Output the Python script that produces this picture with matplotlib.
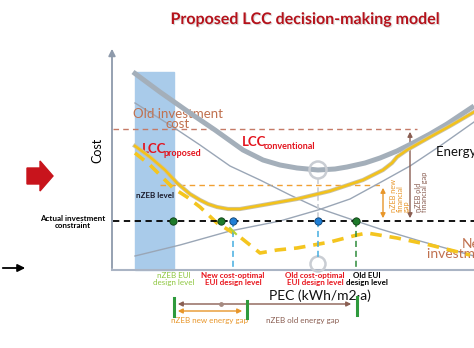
import matplotlib.pyplot as plt
import matplotlib.patheffects as pe
from matplotlib.patches import Rectangle, Ellipse, FancyArrow

plt.rcParams['font.family'] = ['Lato', 'DejaVu Sans']

# canvas units: x grows with PEC, y is screen position (cost grows upward on screen)
W, H = 474, 348

# LCC conventional (thick grey)
conv_x = [133, 160, 190, 215, 243, 263, 280, 297, 318, 335, 347, 365, 380, 397, 413, 430, 447, 474]
conv_y = [72, 92, 113, 130, 150, 160, 165, 168, 170, 169, 167, 163, 158, 151, 143, 134, 124, 106]

# LCC proposed (yellow)
prop_x = [135, 150, 165, 177, 190, 200, 208, 217, 228, 240, 263, 297, 330, 363, 383, 392, 397, 407, 430, 450, 474]
prop_y = [146, 157, 170, 183, 194, 200, 204, 207, 209, 209, 205, 199, 191, 180, 170, 163, 157, 150, 137, 126, 112]

# energy cost (thin grey, rising)
energy_x = [135, 180, 230, 280, 318, 350, 383, 410, 440, 474]
energy_y = [256, 245, 231, 221, 210, 199, 181, 166, 146, 122]

# old investment cost (thin grey, falling)
inv_x = [135, 170, 200, 230, 260, 290, 318, 356, 380, 420, 474]
inv_y = [103, 125, 145, 166, 180, 195, 208, 221, 229, 241, 256]

# new investment cost (yellow dashed)
newinv_x = [135, 150, 173, 187, 200, 217, 240, 260, 277, 297, 330, 357, 367, 397, 430, 470]
newinv_y = [153, 165, 188, 197, 207, 223, 237, 253, 250, 248, 242, 235, 233, 238, 245, 255]

# levels
constraint_y = 221
old_cost_y = 129
new_gap_y = 185
nzeb_x = (135, 174)
green_pts = [173, 221, 356]
blue_pts = [233, 318]

# design levels along the PEC axis
axis_y = 270
nzeb_eui = 174
new_opt_eui = 233
old_opt_eui = 318
old_eui = 356
new_gap_end = 247

fig = plt.figure(figsize=(W / 100, H / 100), dpi=100)
ax = fig.add_axes([0, 0, 1, 1])
ax.set_xlim(0, W)
ax.set_ylim(H, 0)
ax.axis('off')

# nZEB band
ax.add_patch(Rectangle((nzeb_x[0], 72), nzeb_x[1] - nzeb_x[0], axis_y - 72,
                       color='#a9cbea', zorder=1))

# axes
ax.annotate('', xy=(112, 46), xytext=(112, axis_y + 1),
            arrowprops=dict(arrowstyle='-|>', color='#8e9aab', lw=1.3,
                            mutation_scale=10))
ax.plot([112, W], [axis_y, axis_y], color='#aab4c4', lw=1.5, zorder=2)

# reference lines
ax.plot([113, 417], [old_cost_y] * 2, color='#c57a66', lw=1, ls=(0, (4, 3)), zorder=2)
ax.plot([160, 383], [new_gap_y] * 2, color='#f0a033', lw=1, ls=(0, (4, 3)), zorder=2)

# curves
ax.plot(energy_x, energy_y, color='#9aa6b6', lw=1, zorder=3)
ax.plot(inv_x, inv_y, color='#9aa6b6', lw=1, zorder=3)
ax.plot(conv_x, conv_y, color='#a4afba', lw=3.6, solid_capstyle='butt', zorder=4)
ax.plot(prop_x, prop_y, color='#f3c21a', lw=1.8, zorder=5,
        path_effects=[pe.Stroke(linewidth=3, foreground='#c9c2a8'), pe.Normal()])
ax.plot(newinv_x, newinv_y, color='#f4c51f', lw=2.6, ls=(0, (3.2, 2.2)), zorder=5)

# circles marking the old cost optimum
ax.add_patch(Ellipse((old_opt_eui, 170), 17, 17, fill=False, ec='#c9cdd3', lw=1.8, zorder=6))
ax.add_patch(Ellipse((old_opt_eui, 264), 15, 15, fill=False, ec='#c9cdd3', lw=1.8, zorder=2))
ax.plot([old_opt_eui] * 2, [179, constraint_y], color='#c9cdd3', lw=1.2,
        ls=(0, (3, 2)), zorder=3)

# investment constraint
ax.plot([113, W], [constraint_y] * 2, color='black', lw=1.3, ls=(0, (3.5, 2.5)), zorder=6)

# drop lines to the PEC axis
ax.plot([new_opt_eui] * 2, [constraint_y, axis_y], color='#45ade0', lw=1.1,
        ls=(0, (4, 2.5)), zorder=6)
ax.plot([old_opt_eui] * 2, [constraint_y, 258], color='#45ade0', lw=1.1,
        ls=(0, (4, 2.5)), zorder=6)
ax.plot([old_eui] * 2, [constraint_y, axis_y], color='#2e8b3a', lw=1.1,
        ls=(0, (4, 2.5)), zorder=6)
ax.plot([new_opt_eui - 3, new_opt_eui + 3], [228, 234], color='#b5d334', lw=1.5, zorder=6)

ax.scatter(green_pts, [constraint_y] * len(green_pts), s=28, color='#1d7a2a',
           edgecolor='#0e3d14', lw=0.6, zorder=7)
ax.scatter(blue_pts, [constraint_y] * len(blue_pts), s=28, color='#1f7fd6',
           edgecolor='#0d3f6e', lw=0.6, zorder=7)

# financial gap arrows
ax.annotate('', xy=(410, old_cost_y), xytext=(410, constraint_y),
            arrowprops=dict(arrowstyle='<|-|>', color='#8a5e52', lw=1, mutation_scale=7))
ax.annotate('', xy=(383, new_gap_y), xytext=(383, constraint_y),
            arrowprops=dict(arrowstyle='<|-|>', color='#e8962a', lw=1, mutation_scale=7))

# energy gap arrows
ax.annotate('', xy=(nzeb_eui + 1, 304), xytext=(old_eui - 2, 304),
            arrowprops=dict(arrowstyle='<|-|>', color='#8a5e52', lw=1, mutation_scale=7))
ax.scatter([221], [304], s=6, color='#a58a80', zorder=7)
ax.annotate('', xy=(nzeb_eui + 1, 311), xytext=(new_gap_end - 2, 311),
            arrowprops=dict(arrowstyle='<|-|>', color='#e8962a', lw=1, mutation_scale=7))
for bx, (b0, b1) in zip([nzeb_eui, new_gap_end, old_eui + 1],
                        [(298, 316), (301, 318), (297, 315)]):
    ax.plot([bx, bx], [b0, b1], color='#2e9a3c', lw=2.2, zorder=7)

# side arrows
ax.add_patch(FancyArrow(27, 176, 13, 0, width=16, head_width=30, head_length=13,
                        length_includes_head=False, color='#c8141c', zorder=3))
ax.annotate('', xy=(28, 268), xytext=(0, 268),
            arrowprops=dict(arrowstyle='-|>', color='black', lw=1.3, mutation_scale=11))

# text
ax.text(305, 20, 'Proposed LCC decision-making model', ha='center', va='center',
        fontsize=11.5, fontweight='bold', color='#b5121b',
        path_effects=[pe.withSimplePatchShadow(offset=(0.8, -0.8), shadow_rgbFace='#999999',
                                               alpha=0.35)])
ax.text(97, 150, 'Cost', rotation=90, ha='center', va='center', fontsize=9)
ax.text(178, 119, 'Old investment\ncost', ha='center', va='center', fontsize=9.5,
        color='#c0714f', linespacing=0.85)

ax.text(142, 153, 'LCC', ha='left', va='baseline', fontsize=9.5, fontweight='bold',
        color='#e3141e')
ax.text(164, 156, 'proposed', ha='left', va='baseline', fontsize=6.5, fontweight='bold',
        color='#e3141e')
ax.text(242, 146, 'LCC', ha='left', va='baseline', fontsize=9.5, fontweight='bold',
        color='#e3141e')
ax.text(264, 149, 'conventional', ha='left', va='baseline', fontsize=6.5, fontweight='bold',
        color='#e3141e')

# these two run off the right edge of the canvas
ax.text(436, 152, 'Energy cost', ha='left', va='center', fontsize=9.5, color='#111111')
ax.text(476, 249, 'New\ninvestment cost', ha='center', va='center', fontsize=10,
        color='#c0714f', linespacing=0.85)

ax.text(155, 196, 'nZEB level', ha='center', va='center', fontsize=5.8,
        fontweight='bold', color='#1a1a2a')
ax.text(73, 222, 'Actual investment\nconstraint', ha='center', va='center', fontsize=5.8,
        fontweight='bold', color='black', linespacing=1.1)

ax.text(390, 212, 'nZEB new\nfinancial\ngap', rotation=90, ha='left', va='bottom',
        fontsize=5.3, color='#e8962a', multialignment='left', linespacing=0.9)
ax.text(415, 212, 'nZEB old\nfinancial gap', rotation=90, ha='left', va='bottom',
        fontsize=5.3, color='#8a5e52', multialignment='left', linespacing=0.9)

ax.text(nzeb_eui, 279, 'nZEB EUI\ndesign level', ha='center', va='center', fontsize=5.8,
        color='#8dc63f', linespacing=1.05)
ax.text(new_opt_eui, 279, 'New cost-optimal\nEUI design level', ha='center', va='center',
        fontsize=5.8, fontweight='bold', color='#e8141c', linespacing=1.05)
ax.text(old_opt_eui - 3, 279, 'Old cost-optimal\nEUI design level', ha='center',
        va='center', fontsize=5.8, fontweight='bold', color='#e8141c', linespacing=1.05)
ax.text(367, 279, 'Old EUI\ndesign level', ha='center', va='center', fontsize=5.8,
        fontweight='bold', color='black', linespacing=1.05)

ax.text(320, 296, 'PEC (kWh/m2·a)', ha='center', va='center', fontsize=10, color='#111111')
ax.text(210, 320, 'nZEB new energy gap', ha='center', va='center', fontsize=5.8,
        color='#e8962a')
ax.text(303, 320, 'nZEB old energy gap', ha='center', va='center', fontsize=5.8,
        color='#8a5e52')

fig.savefig('out.png', dpi=100)
